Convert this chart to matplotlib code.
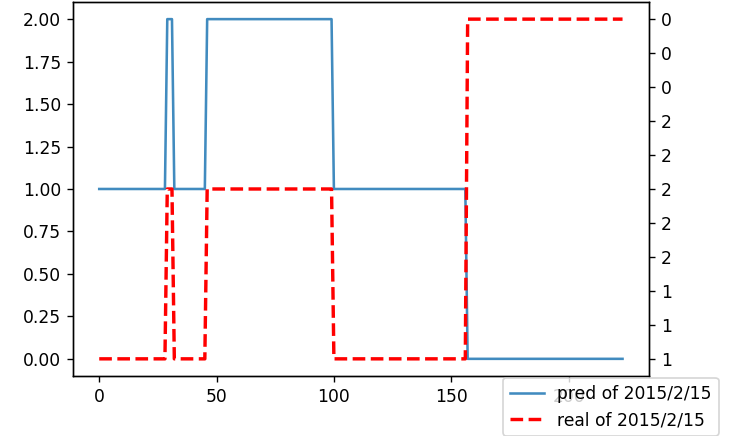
import numpy as np
import matplotlib
matplotlib.use('Agg')
import matplotlib.pyplot as plt

# predicted class per step (run-length)
pred_levels = [1, 2, 1, 2, 1, 0]
pred_runs = [29, 3, 14, 54, 57, 67]

# real class labels (strings -> categorical axis on the right)
real_levels = ['1', '2', '1', '2', '1', '0']
real_runs = [29, 3, 14, 54, 57, 67]

label_pred = 'pred of 2015/2/15'
label_real = 'real of 2015/2/15'

pred = np.repeat(pred_levels, pred_runs)
real = list(np.repeat(real_levels, real_runs))
x = np.arange(len(pred))

fig, ax1 = plt.subplots(figsize=(6.0, 3.545), dpi=123)
fig.subplots_adjust(left=0.099, right=0.879, bottom=0.138, top=0.995)

l1, = ax1.plot(x, pred, color='#1f77b4', lw=1.5, alpha=0.85, label=label_pred)

ax2 = ax1.twinx()
l2, = ax2.plot(x, real, 'r--', lw=2, label=label_real)
ax2.set_ylim(ax1.get_ylim())
ax2.set_yticks(np.linspace(0, 2, 11))

leg = ax2.legend(handles=[l1, l2], loc='upper left',
                 bbox_to_anchor=(0.7465, -0.005), borderaxespad=0)

fig.savefig('out.png', dpi=123)
